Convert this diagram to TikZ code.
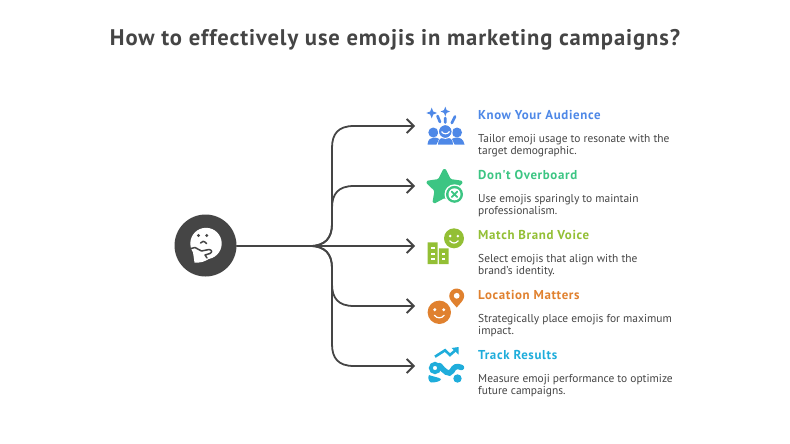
\documentclass[tikz,border=0pt]{standalone}
\usepackage{fontspec}
\setmainfont{PT Sans}
\newfontfamily\headfont[LetterSpace=5]{PT Sans}
\newfontfamily\titlefont[LetterSpace=4]{PT Sans}
\usetikzlibrary{arrows.meta}
\definecolor{ink}{HTML}{454545}
\definecolor{cblue}{HTML}{4E88E7}
\definecolor{cgreen}{HTML}{3CC583}
\definecolor{clime}{HTML}{93BF35}
\definecolor{corange}{HTML}{E0812F}
\definecolor{ccyan}{HTML}{1FADDB}
\tikzset{
  x=1pt,y=-1pt,
  conn/.style={draw=ink,line width=1.8pt,-{Straight Barb[length=7pt,width=14pt,line width=1.8pt]}},
  headtxt/.style={anchor=west,inner sep=0pt,font=\headfont\fontsize{12.9}{14}\selectfont\bfseries},
  bodytxt/.style={anchor=north west,inner sep=0pt,align=left,text=ink,font=\fontsize{11.45}{12.6}\selectfont},
  wht/.style={white,line width=1.2pt,line cap=round},
}
\newcommand{\smileface}[4]{% x y r color
  \fill[#4] (#1,#2) circle (#3);
  \fill[white] (#1-#3*0.38,#2-#3*0.22) circle (#3*0.14);
  \fill[white] (#1+#3*0.38,#2-#3*0.22) circle (#3*0.14);
  \draw[wht] (#1-#3*0.42,#2+#3*0.25) .. controls (#1-#3*0.2,#2+#3*0.55) and (#1+#3*0.2,#2+#3*0.55) .. (#1+#3*0.42,#2+#3*0.25);
}
\newcommand{\sparkle}[3]{\fill[cblue] (#1,#2-#3) -- (#1+#3*0.28,#2-#3*0.28) -- (#1+#3,#2) -- (#1+#3*0.28,#2+#3*0.28) -- (#1,#2+#3) -- (#1-#3*0.28,#2+#3*0.28) -- (#1-#3,#2) -- (#1-#3*0.28,#2-#3*0.28) -- cycle;}
\begin{document}
\begin{tikzpicture}
\useasboundingbox (0,0) rectangle (790,444);
\node[inner sep=0pt,text=ink,font=\titlefont\fontsize{22.6}{26}\selectfont\bfseries] (title) at (395,39.5) {How to effectively use emojis in marketing campaigns?};
% root
\node[circle,fill=ink,minimum size=62pt,inner sep=0pt] (root) at (205.5,245.5) {};
\fill[white] (206,243.5) circle (15.7);
\fill[white] (192.5,249) -- (194.5,262.5) .. controls (199,263) and (206,262.5) .. (212,256) -- (206,248) -- cycle;
\draw[ink,line width=1.5pt,line cap=round,line join=round] (189,249) -- (195,247.5) -- (201.5,251) -- (209,249.5) .. controls (212,250) and (212.5,252) .. (210,253.5) -- (205,255) -- (207,258);
\fill[ink] (198.5,235.5) circle (1.7) (206.7,235.5) circle (1.7);
\draw[ink,line width=1.5pt,line cap=round] (200.5,243) .. controls (202,241) and (204,240.5) .. (206.5,243.5);
% targets
\coordinate (t1) at (415,126);
\coordinate (t2) at (415,186);
\coordinate (t3) at (415,246);
\coordinate (t4) at (415,306);
\coordinate (t5) at (415,366);
\draw[conn] (root.east) ++(0,0.5) -- (t3);
\draw[conn] (root.east) ++(0,0.5) -- (310,246) .. controls (325,246) and (332,238) .. (332,224) -- (332,148) .. controls (332,134) and (338,126) .. (354,126) -- (t1);
\draw[conn] (root.east) ++(0,0.5) -- (310,246) .. controls (325,246) and (332,238) .. (332,224) -- (332,208) .. controls (332,194) and (338,186) .. (354,186) -- (t2);
\draw[conn] (root.east) ++(0,0.5) -- (310,246) .. controls (325,246) and (332,254) .. (332,268) -- (332,284) .. controls (332,298) and (338,306) .. (354,306) -- (t4);
\draw[conn] (root.east) ++(0,0.5) -- (310,246) .. controls (325,246) and (332,254) .. (332,268) -- (332,344) .. controls (332,358) and (338,366) .. (354,366) -- (t5);
% icon 1
\sparkle{431.7}{113}{5.4}
\sparkle{445.3}{111.5}{4.8}
\draw[cblue,line width=2.7pt,line cap=round] (437.5,116) -- (440,122) (445.3,118) -- (445.3,122.5) (455,116.5) -- (451.8,123);
\fill[cblue] (433.3,132.5) circle (5) (457,132.5) circle (5);
\fill[cblue] (427.5,144.5) .. controls (428,139) and (431,137.5) .. (434,137.5) .. controls (436,137.5) and (438,138) .. (439,139) -- (436.5,144.5) -- cycle;
\fill[cblue] (464.5,144.5) .. controls (463.5,139) and (460,137.5) .. (457,137.5) .. controls (455,137.5) and (453,138) .. (452,139) -- (454.5,144.5) -- cycle;
\fill[cblue] (438,144.5) .. controls (438,139) and (441,137.5) .. (445.5,137.5) .. controls (450,137.5) and (453,139) .. (453,144.5) -- cycle;
\fill[cblue] (445.3,131.5) circle (6.5);
\draw[white,line width=1.1pt] (441.5,131.5) .. controls (443,134.5) and (448,134.5) .. (449.5,131.5);
\draw[white,line width=0.9pt] (445.3,131.5) circle (6.9);
% icon 2
\fill[cgreen,draw=cgreen,line width=2pt,line join=round,rounded corners=1.5pt] (444.5,168.8) -- (450,180) -- (462.5,181.8) -- (453.5,190.5) -- (455.6,203) -- (444.5,197) -- (433.4,203) -- (435.5,190.5) -- (426.5,181.8) -- (439,180) -- cycle;
\fill[white] (454.5,194.3) circle (10);
\fill[cgreen] (454.5,194.3) circle (8.5);
\fill[white] (454.5,194.3) circle (6);
\draw[cgreen,line width=1.8pt,line cap=round] (451.8,191.6) -- (457.2,197) (457.2,191.6) -- (451.8,197);
% icon 3
\smileface{454}{238.3}{10}{clime}
\fill[clime] (427.7,242.3) rectangle (437.7,264) (438.9,248.3) rectangle (448.7,264);
\foreach \yy in {247,252.5,258}{\fill[white] (430.5,\yy) rectangle (435,\yy+2.2);}
\foreach \yy in {252.5,258}{\fill[white] (441.5,\yy) rectangle (445,\yy+2.2);}
% icon 4
\smileface{439.3}{312.3}{11.7}{corange}
\fill[corange] (456.7,307.5) .. controls (453,303) and (449.2,300) .. (449.2,296) arc[start angle=180,end angle=360,radius=7.5] .. controls (464.2,300) and (460.4,303) .. (456.7,307.5) -- cycle;
\fill[white] (456.7,295.8) circle (2.9);
% icon 5
\draw[ccyan,line width=2.6pt,line join=miter] (435,356.7) -- (445,350.3) -- (450,355) -- (456,349.8);
\fill[ccyan] (458.5,347) -- (458.5,354.5) -- (451.5,348) -- cycle;
\draw[ccyan,line width=3.8pt] (435,368) circle (4.2);
\draw[ccyan,line width=5.5pt,line cap=round] (439.5,365.5) .. controls (444,371) and (449,376) .. (452,371) .. controls (454,366.5) and (457,365.5) .. (461.5,367.5);
\fill[ccyan] (429,375) .. controls (434,377) and (438,377) .. (441,379) .. controls (441,381.5) and (435,382.5) .. (431,382.5) .. controls (428,381) and (428,377) .. (429,375) -- cycle;
\fill[ccyan] (457.5,378.5) circle (4.2);
% text
\node[headtxt,text=cblue] (h1) at (478,115) {Know Your Audience};
\node[bodytxt] (b1) at (478,134) {Tailor emoji usage to resonate with the\\target demographic.};
\node[headtxt,text=cgreen] (h2) at (478,175) {Don't Overboard};
\node[bodytxt] (b2) at (478,194) {Use emojis sparingly to maintain\\professionalism.};
\node[headtxt,text=clime] (h3) at (478,235) {Match Brand Voice};
\node[bodytxt] (b3) at (478,254) {Select emojis that align with the\\brand's identity.};
\node[headtxt,text=corange] (h4) at (478,295) {Location Matters};
\node[bodytxt] (b4) at (478,314) {Strategically place emojis for maximum\\impact.};
\node[headtxt,text=ccyan] (h5) at (478,355) {Track Results};
\node[bodytxt] (b5) at (478,374) {Measure emoji performance to optimize\\future campaigns.};
\end{tikzpicture}
\end{document}
